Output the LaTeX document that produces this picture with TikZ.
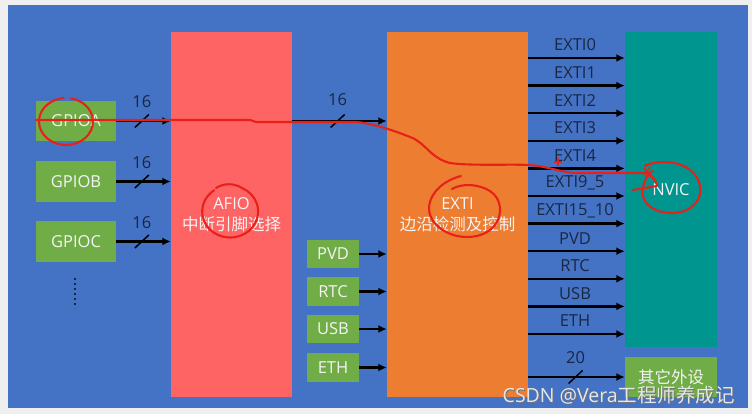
\documentclass[tikz,border=0pt]{standalone}
\usepackage{fontspec}
\setmainfont{Open Sans}
\newfontfamily\cjk{Noto Sans CJK SC}
\usetikzlibrary{arrows.meta}
\definecolor{outergray}{HTML}{EFEFEF}
\definecolor{bgblue}{HTML}{4472C4}
\definecolor{boxred}{HTML}{FF6464}
\definecolor{boxorange}{HTML}{ED7D31}
\definecolor{boxteal}{HTML}{00958F}
\definecolor{boxgreen}{HTML}{70AD47}
\definecolor{boxtxt}{HTML}{F4F4F4}
\definecolor{labtxt}{HTML}{1A2742}
\definecolor{penred}{HTML}{E8201A}
\definecolor{wmtext}{HTML}{E6E6E6}
\begin{document}
\begin{tikzpicture}[x=1pt,y=-1pt,
  blk/.style={draw=none, inner sep=0pt, text=boxtxt, align=center,
              font=\fontsize{16.5}{21}\selectfont},
  gbox/.style={blk, fill=boxgreen},
  arr/.style={line width=2.5pt, draw=black, -{Latex[length=8.5pt,width=8pt]}},
  lab/.style={text=labtxt, inner sep=0pt, font=\fontsize{16.5}{18}\selectfont},
  slashln/.style={line width=1.5pt, draw=black},
  redpen/.style={draw=penred, line width=2.1pt, line cap=round, line join=round}]
\useasboundingbox (0,0) rectangle (752,414);
\fill[outergray] (0,0) rectangle (752,414);
\fill[bgblue] (8,5) rectangle (748,408);

% main blocks
\node[blk, fill=boxred, minimum width=121pt, minimum height=365pt] (afio) at (231.5,214.5)
  {AFIO\\{\cjk 中断引脚选择}};
\node[blk, fill=boxorange, minimum width=141pt, minimum height=365pt] (exti) at (457.5,214.5)
  {EXTI\\{\cjk 边沿检测及控制}};
\node[blk, fill=boxteal, minimum width=92pt, minimum height=315pt] (nvic) at (671,189.5) {NVIC};
\node[gbox, minimum width=92pt, minimum height=40pt] (other) at (671,377) {{\cjk 其它外设}};

% GPIO ports
\node[gbox, minimum width=80pt, minimum height=40pt] (gpioa) at (76,121) {GPIOA};
\node[gbox, minimum width=80pt, minimum height=41pt] (gpiob) at (76,181.5) {GPIOB};
\node[gbox, minimum width=80pt, minimum height=41pt] (gpioc) at (76,241.5) {GPIOC};
\draw[labtxt, line width=1.6pt, dash pattern=on 1.6pt off 3.4pt]
  (gpioc.south) ++(-1,16) -- ++(0,30);

% peripheral inputs of EXTI
\node[gbox, minimum width=52pt, minimum height=28pt] (pvd) at (333,254) {PVD};
\node[gbox, minimum width=52pt, minimum height=29pt] (rtc) at (333,291.5) {RTC};
\node[gbox, minimum width=52pt, minimum height=28pt] (usb) at (333,329) {USB};
\node[gbox, minimum width=52pt, minimum height=29pt] (eth) at (333,367.5) {ETH};
\foreach \p in {pvd,rtc,usb,eth}
  \draw[arr] (\p.east) -- (\p.east -| exti.west);

% GPIO -> AFIO buses
\foreach \g in {gpioa,gpiob,gpioc} {
  \draw[arr] (\g.east) -- coordinate[pos=0.47] (s\g) (\g.east -| afio.west);
  \draw[slashln] (s\g) ++(-7,6.5) -- ++(14,-13);
  \path (s\g) ++(0,-19) node[lab] {16};
}

% AFIO -> EXTI bus
\draw[arr] (afio.east |- gpioa.east) -- coordinate[pos=0.48] (sae) (exti.west |- gpioa.east);
\draw[slashln] (sae) ++(-7,6.5) -- ++(14,-13);
\path (sae) ++(0,-21) node[lab] {16};

% EXTI -> NVIC lines
\foreach \lbl [count=\i from 0] in {EXTI0,EXTI1,EXTI2,EXTI3,EXTI4,EXTI9\_5,EXTI15\_10,PVD,RTC,USB,ETH} {
  \pgfmathsetmacro\yy{58+27.6*\i}
  \draw[arr] (exti.east |- 0,\yy) -- node[lab, pos=0.485, yshift=13pt] {\lbl} (nvic.west |- 0,\yy);
}

% EXTI -> other peripherals
\draw[arr] (exti.east |- other.west) -- coordinate[pos=0.49] (seo) (other.west);
\draw[slashln] (seo) ++(-7,6.5) -- ++(14,-13);
\path (seo) ++(0,-19) node[lab] {20};

% red hand annotations
\draw[redpen] (66,121.5) ++(-80:27 and 23.5) arc[start angle=-80, end angle=265, x radius=27, y radius=23.5];
\draw[redpen] (216,188) .. controls (224,183) and (234,183) .. (242,188)
  arc[start angle=-65, end angle=235, x radius=28, y radius=26];
\draw[redpen] (461,176) .. controls (446,180) and (431,190) .. (429,207)
  .. controls (428,222) and (445,237) .. (467,237)
  .. controls (488,237) and (501,224) .. (500,208)
  .. controls (499,193) and (485,186) .. (470,185)
  .. controls (463,185) and (457,186) .. (452,189);
\draw[redpen] (645,166) .. controls (655,160) and (690,158) .. (699,182)
  .. controls (705,200) and (690,214) .. (670,213)
  .. controls (650,212) and (640,200) .. (643,188)
  .. controls (644,180) and (648,175) .. (652,171);
\draw[redpen] (36,120) -- (250,120) -- (256,122) -- (357,122)
  .. controls (375,124) and (395,131) .. (410,137)
  .. controls (425,142) and (430,158) .. (450,163)
  .. controls (470,166) and (510,164) .. (530,165)
  .. controls (550,167) and (560,172) .. (575,173)
  -- (645,173) .. controls (650,174) and (655,178) .. (657,185);
\draw[redpen] (633,190) -- (657,186);
\draw[redpen, line width=1.4pt] (644,168) -- (650,175) (650,167) -- (645,175);
\draw[redpen, line width=1.2pt] (554.5,162) -- (561.5,162) (558,158.5) -- (558,165.5);

% watermark
\node[anchor=base east, inner sep=0pt, text=black!55, font=\fontsize{19.5}{20}\selectfont]
  (wmshadow) at (736,403) {CSDN @Vera{\cjk 工程师养成记}};
\node[anchor=base east, inner sep=0pt, text=wmtext, font=\fontsize{19.5}{20}\selectfont]
  (wm) at (735,402) {CSDN @Vera{\cjk 工程师养成记}};
\end{tikzpicture}
\end{document}
